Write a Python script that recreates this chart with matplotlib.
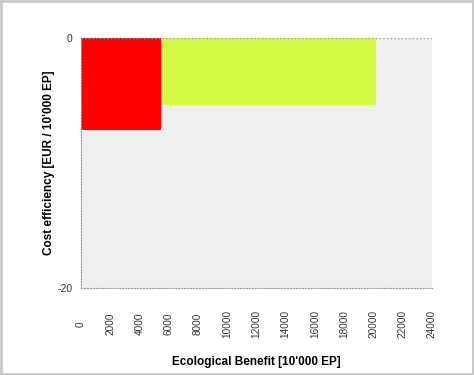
import numpy as np
import matplotlib

matplotlib.use("Agg")
import matplotlib.pyplot as plt

plt.rcParams["font.family"] = ["Liberation Sans", "DejaVu Sans"]

# benefit widths [10'000 EP] and cost efficiency per measure
benefit = [5450, 14700]
efficiency = [-7.4, -5.4]
colors = ["#ff0000", "#d4fa45"]
x_ticks = list(range(0, 24001, 2000))
y_ticks = [-20, 0]

fig = plt.figure(figsize=(4.74, 3.75), dpi=100)
fig.patch.set_facecolor("white")
# thin grey frame around image
fig.patches.append(plt.Rectangle((0.002, 0.002), 0.996, 0.996, transform=fig.transFigure,
                                 fill=False, edgecolor="#c8c8c8", linewidth=2))

ax = fig.add_axes([0.171, 0.232, 0.740, 0.667])
ax.set_facecolor("#efeef1")

starts = np.concatenate([[0], np.cumsum(benefit)[:-1]])
ax.bar(starts, efficiency, width=benefit, align="edge", color=colors, zorder=2)

ax.set_xlim(0, 24000)
ax.set_ylim(-20, 0)
ax.set_xticks(x_ticks)
ax.set_xticklabels([str(t) for t in x_ticks], rotation=90, fontsize=7.2,
                   color="#333333", va="center")
ax.set_yticks(y_ticks)
ax.set_yticklabels([str(t) for t in y_ticks], fontsize=7.5, color="#333333")
ax.tick_params(length=0)
ax.tick_params(axis="y", pad=6)
ax.tick_params(axis="x", pad=26)

for s in ["top", "right"]:
    ax.spines[s].set_visible(False)
ax.spines["left"].set_color("#999999")
ax.spines["left"].set_linestyle(":")
ax.spines["bottom"].set_color("#999999")
ax.spines["bottom"].set_linestyle(":")
ax.axhline(0, color="#999999", linestyle=":", linewidth=1, zorder=3)

ax.set_xlabel("Ecological Benefit [10'000 EP]", fontsize=8.5, fontweight="bold", labelpad=13)
ax.set_ylabel("Cost efficiency [EUR / 10'000 EP]", fontsize=8.5, fontweight="bold", labelpad=2)

plt.savefig("out.png", dpi=100, facecolor="white")
plt.close()
